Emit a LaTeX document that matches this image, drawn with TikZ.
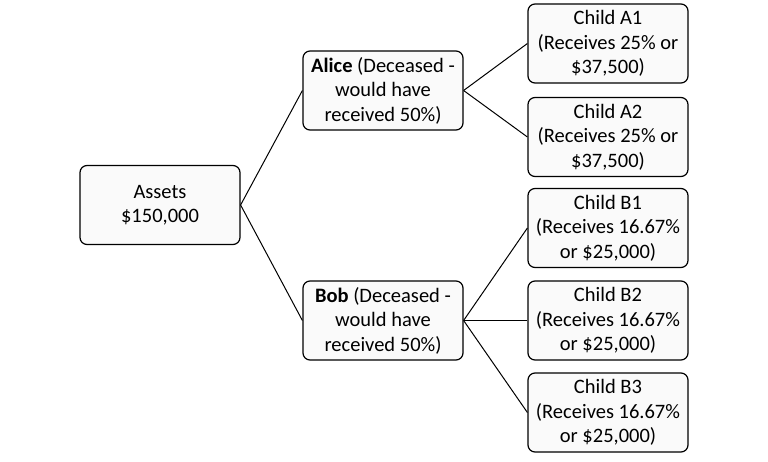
\documentclass[tikz,border=0pt]{standalone}
\usepackage{fontspec}
\setmainfont{Carlito}
\begin{document}
\begin{tikzpicture}[x=1pt,y=-1pt,
  box/.style={draw=black, line width=1.2pt, rounded corners=7pt, fill=gray!4,
    minimum width=160pt, minimum height=79pt, align=center, inner sep=1pt,
    font=\fontsize{20.5}{24.5}\selectfont},
  link/.style={draw=black, line width=1pt}]
\useasboundingbox (0,0) rectangle (768,462);
\node[box] (assets) at (160,205) {Assets\\\$150,000};
\node[box] (alice) at (383,90.5) {\textbf{Alice} (Deceased -\\would have\\received 50\%)};
\node[box] (bob) at (383,320.5) {\textbf{Bob} (Deceased -\\would have\\received 50\%)};
\node[box] (a1) at (608,43.5) {Child A1\\(Receives 25\% or\\\$37,500)};
\node[box] (a2) at (608,137) {Child A2\\(Receives 25\% or\\\$37,500)};
\node[box] (b1) at (608,228) {Child B1\\(Receives 16.67\%\\or \$25,000)};
\node[box] (b2) at (608,320.5) {Child B2\\(Receives 16.67\%\\or \$25,000)};
\node[box] (b3) at (608,412.5) {Child B3\\(Receives 16.67\%\\or \$25,000)};
\draw[link] (assets.east) -- (alice.west);
\draw[link] (assets.east) -- (bob.west);
\draw[link] (alice.east) -- (a1.west);
\draw[link] (alice.east) -- (a2.west);
\draw[link] (bob.east) -- (b1.west);
\draw[link] (bob.east) -- (b2.west);
\draw[link] (bob.east) -- (b3.west);
\end{tikzpicture}
\end{document}
